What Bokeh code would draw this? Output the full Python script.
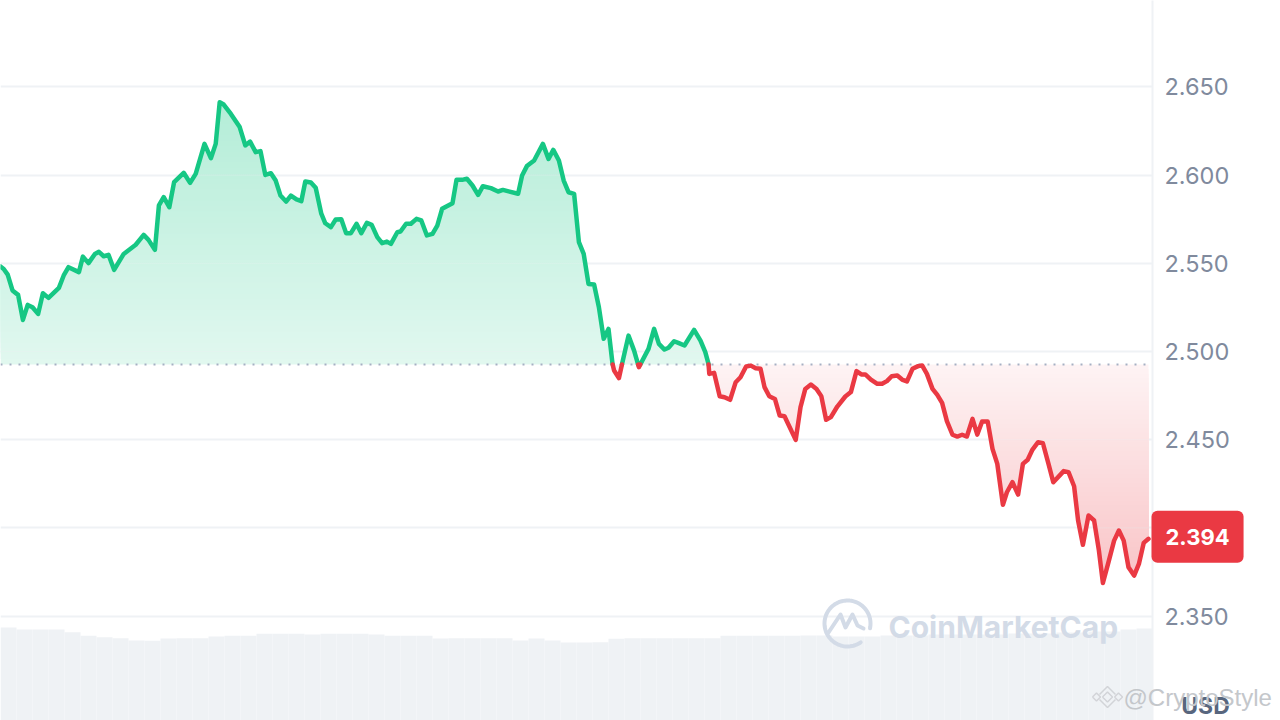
import numpy as np
from bokeh.embed import file_html
from bokeh.resources import INLINE
from bokeh.plotting import figure
from bokeh.models import FixedTicker, Label, NumeralTickFormatter, Range1d

# minutes since the start of the 24h window
minutes = [0,4,9,15,22,28,34,40,47,53,60,73,79,85,98,103,110,118,123,129,135,142,154,169,179,185,193,198,204,211,217,229,237,244,255,263,269,274,279,288,299,306,312,319,325,331,338,344,350,357,363,370,376,381,388,394,401,406,413,419,426,432,438,445,451,458,464,471,477,483,488,496,
           500,507,513,520,526,533,540,546,552,565,570,577,583,590,597,603,613,622,628,647,652,658,667,678,685,691,698,704,710,717,723,729,735,742,748,754,760,765,767,773,777,785,792,798,810,817,823,830,835,842,848,855,867,875,881,885,886,892,899,905,912,919,925,932,938,944,950,955,961,968,974,980,
           994,1000,1006,1013,1020,1026,1032,1038,1046,1056,1063,1070,1076,1081,1088,1096,1102,1108,1114,1121,1127,1133,1140,1147,1152,1158,1165,1171,1177,1183,1190,1196,1202,1208,1215,1221,1227,1234,1240,1246,1253,1258,1265,1272,1278,1284,1290,1297,1303,1310,1316,1329,1335,1342,1347,1353,1360,1367,1373,1378,1385,1392,1398,1404,1410,1417,1423,1429,1435]
prices = [2.5482,2.5468,2.5436,2.5346,2.5321,2.5179,2.5264,2.5251,2.5213,2.5330,2.5304,2.5361,2.5431,2.5478,2.5450,2.5538,2.5501,2.5553,2.5565,2.5540,2.5548,2.5463,2.5553,2.5605,2.5661,2.5633,2.5576,2.5828,2.5875,2.5818,2.5960,2.6013,2.5956,2.6007,2.6177,2.6096,2.6177,2.6413,2.6400,2.6347,2.6272,2.6168,2.6190,2.6130,2.6136,2.6001,2.6011,2.5969,2.5884,2.5850,2.5884,2.5862,2.5852,2.5964,2.5958,2.5928,2.5781,2.5727,2.5705,2.5748,2.5750,2.5671,2.5671,2.5724,2.5671,2.5729,2.5718,2.5648,2.5614,2.5623,2.5610,2.5676,
          2.5680,2.5724,2.5724,2.5752,2.5743,2.5658,2.5667,2.5714,2.5809,2.5841,2.5973,2.5973,2.5979,2.5941,2.5888,2.5937,2.5926,2.5907,2.5916,2.5894,2.5998,2.6051,2.6083,2.6177,2.6092,2.6143,2.6083,2.5969,2.5903,2.5894,2.5620,2.5553,2.5383,2.5380,2.5251,2.5072,2.5128,2.4930,2.4892,2.4849,2.4930,2.5090,2.5005,2.4911,2.5015,2.5128,2.5043,2.5011,2.5021,2.5058,2.5047,2.5034,2.5123,2.5062,2.4996,2.4930,2.4873,2.4879,2.4746,2.4741,2.4726,2.4826,2.4854,2.4915,2.4920,2.4905,2.4902,2.4798,2.4746,2.4731,2.4637,2.4633,
          2.4499,2.4684,2.4788,2.4813,2.4788,2.4747,2.4613,2.4628,2.4688,2.4745,2.4770,2.4889,2.4870,2.4870,2.4841,2.4817,2.4817,2.4832,2.4860,2.4864,2.4841,2.4830,2.4902,2.4917,2.4921,2.4873,2.4788,2.4754,2.4709,2.4605,2.4528,2.4518,2.4528,2.4518,2.4618,2.4529,2.4603,2.4603,2.4448,2.4363,2.4131,2.4202,2.4259,2.4189,2.4363,2.4386,2.4444,2.4486,2.4480,2.4363,2.4259,2.4322,2.4316,2.4236,2.4042,2.3904,2.4070,2.4042,2.3872,2.3688,2.3806,2.3928,2.3985,2.3928,2.3777,2.3730,2.3796,2.3915,2.3938]
base_price = 2.4926
last_price = "2.394"
tick_values = [2.35, 2.40, 2.45, 2.50, 2.55, 2.60, 2.65]
volume_minutes = list(range(10, 1440, 20))
volumes = [93,91,91,91,88.3,84.7,83.3,82.3,80,79.7,82,82.3,82.3,84,84.7,84.7,86.7,86.7,86.7,86,86.7,86.7,86.7,86,84.7,
           84.7,84.7,82,82.3,82.3,82.3,82.3,80,82,80,78,78,78.3,81.7,82.3,82.3,82.3,82.3,82.3,82.3,84.7,84.7,84.7,84.7,84.7,
           85,85,84,84,84,85,85,85,86,86,86,86,86,87,87,87,88,88,89,89,91,92]

GREEN, RED, GRID, AXIS_TEXT, MARK = "#16c784", "#ea3943", "#eff2f5", "#808a9d", "#d3dbe7"


def sx(px):
    return np.asarray(px, dtype=float) * 1.25


def sy(py):
    return 2.5 + (351 - np.asarray(py, dtype=float)) / 1764


def mix(c, alpha):
    r, g, b = int(c[1:3], 16), int(c[3:5], 16), int(c[5:7], 16)
    f = lambda v: int(round(255 - (255 - v) * alpha))
    return "#%02x%02x%02x" % (f(r), f(g), f(b))


p = figure(width=1280, height=720, frame_width=1152, frame_height=720,
           x_range=Range1d(0, 1440), y_range=Range1d(float(sy(720)), float(sy(0))),
           x_axis_location=None, y_axis_location="right",
           min_border_left=0, min_border_top=0, min_border_bottom=0, min_border_right=0,
           toolbar_location=None, output_backend="svg", outline_line_color=None)
p.background_fill_color = "white"
p.xgrid.visible = False
p.ygrid.ticker = FixedTicker(ticks=tick_values)
p.ygrid.grid_line_color = GRID
p.ygrid.grid_line_width = 2

ax = p.yaxis[0]
ax.ticker = FixedTicker(ticks=tick_values)
ax.formatter = NumeralTickFormatter(format="0.000")
ax.axis_line_color = GRID
ax.axis_line_width = 2
ax.major_tick_line_color = None
ax.minor_tick_line_color = None
ax.major_label_standoff = 6
ax.major_label_text_font = "Inter"
ax.major_label_text_font_size = "23.5px"
ax.major_label_text_color = AXIS_TEXT

# volume
p.extra_y_ranges = {"vol": Range1d(0, 720)}
p.vbar(x=volume_minutes, top=volumes, bottom=0, width=20, y_range_name="vol",
       fill_color=GRID, line_color=None)

# gradient fills: nested opaque layers, each painted over the last
xf = np.arange(minutes[0], minutes[-1] + 0.5, 0.5)
yf = np.interp(xf, minutes, prices)
n = 48
for k, lev in enumerate(np.linspace(base_price, max(prices), n, endpoint=False)):
    p.varea(xf, y1=np.full_like(xf, lev), y2=np.maximum(yf, lev),
            fill_color=mix(GREEN, 0.13 + 0.19 * k / (n - 1)))
for k, lev in enumerate(np.linspace(base_price, min(prices), n, endpoint=False)):
    p.varea(xf, y1=np.full_like(xf, lev), y2=np.minimum(yf, lev),
            fill_color=mix(RED, 0.06 + 0.24 * k / (n - 1)))
# gridlines showing faintly through the fills
for tick in tick_values:
    inside = (yf > tick) & (tick > base_price) | (yf < tick) & (tick < base_price)
    p.line(xf, np.where(inside, tick, np.nan), line_color=GRID, line_alpha=0.35, line_width=1)

# dotted previous-close line
p.line([minutes[0], minutes[-1]], [base_price, base_price], line_color="#a6b0c3",
       line_width=2, line_dash="2 7")

# line split at the baseline
xs, ys = [minutes[0]], [prices[0]]
for i in range(1, len(minutes)):
    a, b = prices[i - 1] - base_price, prices[i] - base_price
    if a * b < 0:
        xs.append(minutes[i - 1] + (minutes[i] - minutes[i - 1]) * a / (a - b))
        ys.append(base_price)
    xs.append(minutes[i])
    ys.append(prices[i])
xs, ys = np.array(xs, dtype=float), np.array(ys)
p.line(xs, np.where(ys >= base_price, ys, np.nan), line_color=GREEN, line_width=4.5,
       line_join="round", line_cap="round")
p.line(xs, np.where(ys <= base_price, ys, np.nan), line_color=RED, line_width=4.5,
       line_join="round", line_cap="round")

# CoinMarketCap watermark
t = np.radians(np.linspace(-12, 305, 80))
p.line(sx(847 + 23 * np.cos(t)), sy(623 - 23 * np.sin(t)), line_color=MARK, line_width=4, line_cap="round")
p.line(sx([828, 840, 845, 852, 857, 863]), sy([632, 614, 627, 614, 625, 628]),
       line_color=MARK, line_width=4, line_join="round", line_cap="round")
p.add_layout(Label(x=float(sx(888)), y=float(sy(626)), text="CoinMarketCap", text_font="Inter",
                   text_font_size="30px", text_font_style="bold", text_color=MARK,
                   text_align="left", text_baseline="middle"))

# @CryptoStyle logo
LOGO = "#d2d4d8"
for px, py in [([1099, 1107, 1115], [694, 686, 694]), ([1099, 1107, 1115], [699, 707, 699]),
               ([1102, 1107, 1112, 1107, 1102], [696.5, 691.5, 696.5, 701.5, 696.5]),
               ([1092, 1096, 1100, 1096, 1092], [696.5, 692.5, 696.5, 700.5, 696.5]),
               ([1114, 1118, 1122, 1118, 1114], [696.5, 692.5, 696.5, 700.5, 696.5])]:
    p.line(sx(px), sy(py), line_color=LOGO, line_width=1.5)

# texts that reach past the plot frame live in the right-hand panel
p.add_layout(Label(x=1440, y=prices[-1], text=last_price, text_font="Inter", text_font_size="22px",
                   text_font_style="bold", text_color="white", background_fill_color=RED,
                   border_radius=6, padding=(14, 18), x_offset=-1, y_offset=2,
                   text_align="left", text_baseline="middle"), "right")
p.add_layout(Label(x=float(sx(1205)), y=float(sy(719)), text="USD", text_font="Inter", text_font_size="23px",
                   text_font_style="bold", text_color="#58667e", text_align="center", text_baseline="bottom"), "right")
p.add_layout(Label(x=float(sx(1123)), y=float(sy(697)), text="@CryptoStyle", text_font="Liberation Sans",
                   text_font_size="24px", text_color="#c4c7cb", text_align="left", text_baseline="middle"), "right")

open("out.html", "w").write(file_html(p, INLINE))
